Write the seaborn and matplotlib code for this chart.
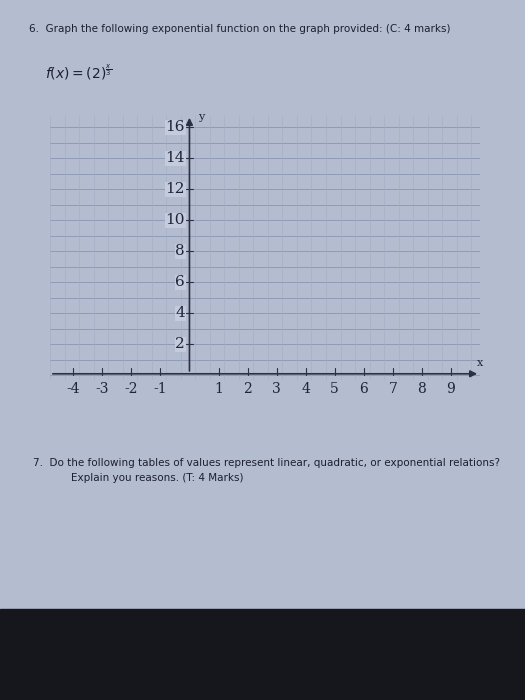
import matplotlib
matplotlib.use("Agg")
import matplotlib.pyplot as plt
import seaborn as sns
import numpy as np

sns.set_style("white")
plt.rcParams['font.family'] = ['DejaVu Sans']

x_ticks = [-4, -3, -2, -1, 1, 2, 3, 4, 5, 6, 7, 8, 9]
y_ticks = [2, 4, 6, 8, 10, 12, 14, 16]
title6 = "6.  Graph the following exponential function on the graph provided: (C: 4 marks)"
title7 = "7.  Do the following tables of values represent linear, quadratic, or exponential relations?"
title7b = "Explain you reasons. (T: 4 Marks)"

fig = plt.figure(figsize=(5.25, 7.0), dpi=100)
fig.patch.set_facecolor("#b4bccf")
fig.patches.append(plt.Rectangle((0, 0), 1, 0.13, transform=fig.transFigure, color="#15171d", zorder=-10))

fig.text(0.055, 0.955, title6, fontsize=7.5, color="#1c2030")
fig.text(0.085, 0.888, r"$f(x) = (2)^{\frac{x}{3}}$", fontsize=10, color="#1c2030")
fig.text(0.062, 0.335, title7, fontsize=7.5, color="#1c2030")
fig.text(0.135, 0.313, title7b, fontsize=7.5, color="#1c2030")

ax = fig.add_axes([50/525, 1-380/700, 430/525, 265/700])
ax.set_zorder(5)
ax.set_facecolor("none")
ax.patch.set_alpha(0)
ax.set_xlim(-4.8, 10.0)
ax.set_ylim(-0.3, 16.8)
for s in ax.spines.values():
    s.set_visible(False)
ax.set_xticks([]); ax.set_yticks([])
for y in range(0, 17):
    ax.axhline(y, color="#8f9ab8", lw=0.7, zorder=1)
for x in np.arange(-4.8, 10.01, 0.5):
    ax.axvline(x, color="#a3acc6", lw=0.4, zorder=1)
ax.annotate("", xy=(10.0, 0.1), xytext=(-4.8, 0.1),
            arrowprops=dict(arrowstyle="-|>", color="#2a3045", lw=1.2))
ax.annotate("", xy=(0, 16.8), xytext=(0, 0.1),
            arrowprops=dict(arrowstyle="-|>", color="#2a3045", lw=1.2))
for t in y_ticks:
    ax.text(-0.15, t, str(t), ha="right", va="center", fontsize=11,
            family="DejaVu Serif", color="#20253a",
            bbox=dict(facecolor="#c4cbdc", edgecolor="none", pad=0.5))
    ax.plot([-0.12, 0.12], [t, t], color="#2a3045", lw=0.8)
for t in x_ticks:
    ax.plot([t, t], [0.0, 0.5], color="#2a3045", lw=0.8)
    ax.text(t, -0.9, str(t), ha="center", va="center", fontsize=10,
            family="DejaVu Serif", color="#20253a", clip_on=False)
ax.text(0.3, 16.5, "y", fontsize=8, family="DejaVu Serif", color="#20253a")
ax.text(9.9, 0.6, "x", fontsize=8, family="DejaVu Serif", color="#20253a")

fig.savefig("out.png", dpi=100)
